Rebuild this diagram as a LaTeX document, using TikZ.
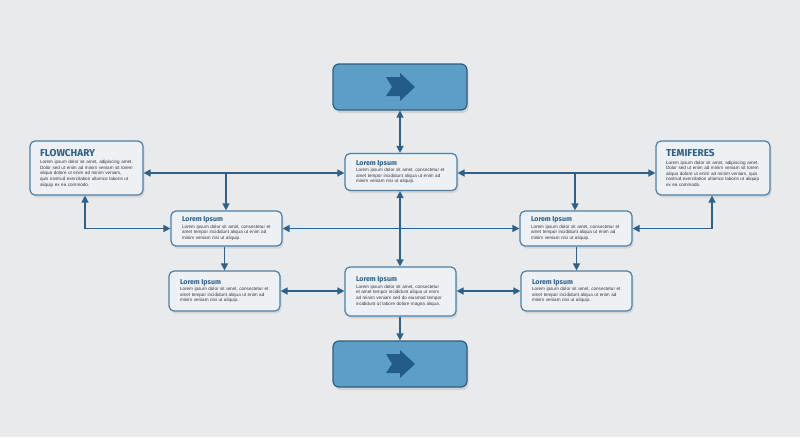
\documentclass[tikz,border=0pt]{standalone}
\usepackage{fontspec}
\setmainfont{Liberation Sans}
\newfontfamily\titlefont{Fira Sans}
\usetikzlibrary{arrows.meta,shadows}
\definecolor{bg}{HTML}{E8EAEC}
\definecolor{boxfill}{HTML}{EEF1F4}
\definecolor{boxline}{HTML}{4A80A8}
\definecolor{bluefill}{HTML}{5D9EC6}
\definecolor{blueline}{HTML}{2F5F80}
\definecolor{chev}{HTML}{245C88}
\definecolor{conn}{HTML}{2E6189}
\definecolor{ttl}{HTML}{2C5E88}
\definecolor{bodytxt}{HTML}{33383E}
\tikzset{
  card/.style={draw=boxline, line width=1.2pt, fill=boxfill, rounded corners=5pt,
    inner sep=0pt, align=left, text=bodytxt,
    font=\fontsize{4.6}{5.6}\selectfont,
    drop shadow={opacity=0.18, shadow xshift=1.5pt, shadow yshift=-2.5pt}},
  bluebox/.style={draw=blueline, line width=1.2pt, fill=bluefill, rounded corners=6pt,
    minimum width=134pt, minimum height=46pt, inner sep=0pt,
    drop shadow={opacity=0.22, shadow xshift=1.5pt, shadow yshift=-3pt}},
  conn/.style={draw=conn, line width=1.4pt, arrows={-}},
  tip/.style={-{Triangle[length=7pt,width=7pt]}},
  tips/.style={{Triangle[length=7pt,width=7pt]}-{Triangle[length=7pt,width=7pt]}},
}
\newcommand{\bigtitle}[1]{{\titlefont\bfseries\fontsize{10}{12}\selectfont\color{ttl}#1}}
\newcommand{\smtitle}[1]{{\titlefont\bfseries\fontsize{7}{8}\selectfont\color{ttl}#1}}
\begin{document}
\begin{tikzpicture}[x=1pt,y=-1pt]
\useasboundingbox (0,0) rectangle (800,437);
\fill[bg] (0,0) rectangle (800,437);

% blue boxes
\node[bluebox] (topb) at (400,87) {};
\node[bluebox] (botb) at (400,364) {};
\foreach \b in {topb,botb}{
  \fill[chev] ([shift={(-14,-10)}]\b.center) -- ([shift={(0,-10)}]\b.center)
    -- ([shift={(0,-14)}]\b.center) -- ([shift={(15,0)}]\b.center)
    -- ([shift={(0,14)}]\b.center) -- ([shift={(0,9)}]\b.center)
    -- ([shift={(-14,9)}]\b.center) -- ([shift={(-8,0)}]\b.center) -- cycle;
}

% cards
\node[card, minimum width=113pt, minimum height=54pt, text width=93pt] (flow) at (86.5,168)
 {\bigtitle{FLOWCHARY}\\[2pt] Lorem ipsum dolor sit amet, adipiscing amet. Dolor sed ut enim ad minim veniam sit lorem aliqua dolore ut enim ad minim veniam, quis nostrud exercitation ullamco laboris ut aliquip ex ea commodo.};
\node[card, minimum width=114pt, minimum height=54pt, text width=94pt] (temi) at (713,168)
 {\bigtitle{TEMIFERES}\\[2pt] Lorem ipsum dolor sit amet, adipiscing amet. Dolor sed ut enim ad minim veniam sit lorem aliqua dolore ut enim ad minim veniam, quis nostrud exercitation ullamco laboris ut aliquip ex ea commodo.};
\node[card, minimum width=112pt, minimum height=37pt, text width=90pt] (ctop) at (401,172)
 {\smtitle{Lorem Ipsum}\\[1pt] Lorem ipsum dolor sit amet, consectetur et amet tempor incididunt aliqua ut enim ad minim veniam nisi ut aliquip.};
\node[card, minimum width=111pt, minimum height=35pt, text width=89pt] (lmid) at (226.5,228.5)
 {\smtitle{Lorem Ipsum}\\[1pt] Lorem ipsum dolor sit amet, consectetur et amet tempor incididunt aliqua ut enim ad minim veniam nisi ut aliquip.};
\node[card, minimum width=112pt, minimum height=35pt, text width=90pt] (rmid) at (576,228.5)
 {\smtitle{Lorem Ipsum}\\[1pt] Lorem ipsum dolor sit amet, consectetur et amet tempor incididunt aliqua ut enim ad minim veniam nisi ut aliquip.};
\node[card, minimum width=111pt, minimum height=40pt, text width=89pt] (lbot) at (224.5,291)
 {\smtitle{Lorem Ipsum}\\[1pt] Lorem ipsum dolor sit amet, consectetur et amet tempor incididunt aliqua ut enim ad minim veniam nisi ut aliquip.};
\node[card, minimum width=111pt, minimum height=49pt, text width=89pt] (cbot) at (400.5,291.5)
 {\smtitle{Lorem Ipsum}\\[1pt] Lorem ipsum dolor sit amet, consectetur et amet tempor incididunt aliqua ut enim ad minim veniam sed do eiusmod tempor incididunt ut labore dolore magna aliqua.};
\node[card, minimum width=111pt, minimum height=40pt, text width=89pt] (rbot) at (576.5,291)
 {\smtitle{Lorem Ipsum}\\[1pt] Lorem ipsum dolor sit amet, consectetur et amet tempor incididunt aliqua ut enim ad minim veniam nisi ut aliquip.};

% junction coordinates
\coordinate (jl) at (226,173);
\coordinate (jr) at (575,173);

% connectors
\draw[conn,tips] (topb.south) -- (topb.south |- ctop.north);
\draw[conn,tips] (ctop.south -| topb.south) -- (cbot.north -| topb.south);
\draw[conn,tip] (cbot.south -| botb.north) -- (botb.north);

\draw[conn,tips] (flow.east |- jl) -- (ctop.west |- jl);
\draw[conn,tip] (jl) -- (jl |- lmid.north);
\draw[conn,tips] (ctop.east |- jr) -- (temi.west |- jr);
\draw[conn,tip] (jr) -- (jr |- rmid.north);

\draw[conn,tips] ([xshift=-1.5pt]flow.south) |- (lmid.west);
\draw[conn,tips] ([xshift=-1pt]temi.south) |- (rmid.east);

\draw[conn,tips] (lmid.east) -- (rmid.west);

\draw[conn,tip] (lmid.south -| lbot.north) -- (lbot.north);
\draw[conn,tip] (rmid.south -| rbot.north) -- (rbot.north);

\draw[conn,tips] (lbot.east) -- (cbot.west |- lbot.east);
\draw[conn,tips] (cbot.east |- rbot.west) -- (rbot.west);
\end{tikzpicture}
\end{document}
